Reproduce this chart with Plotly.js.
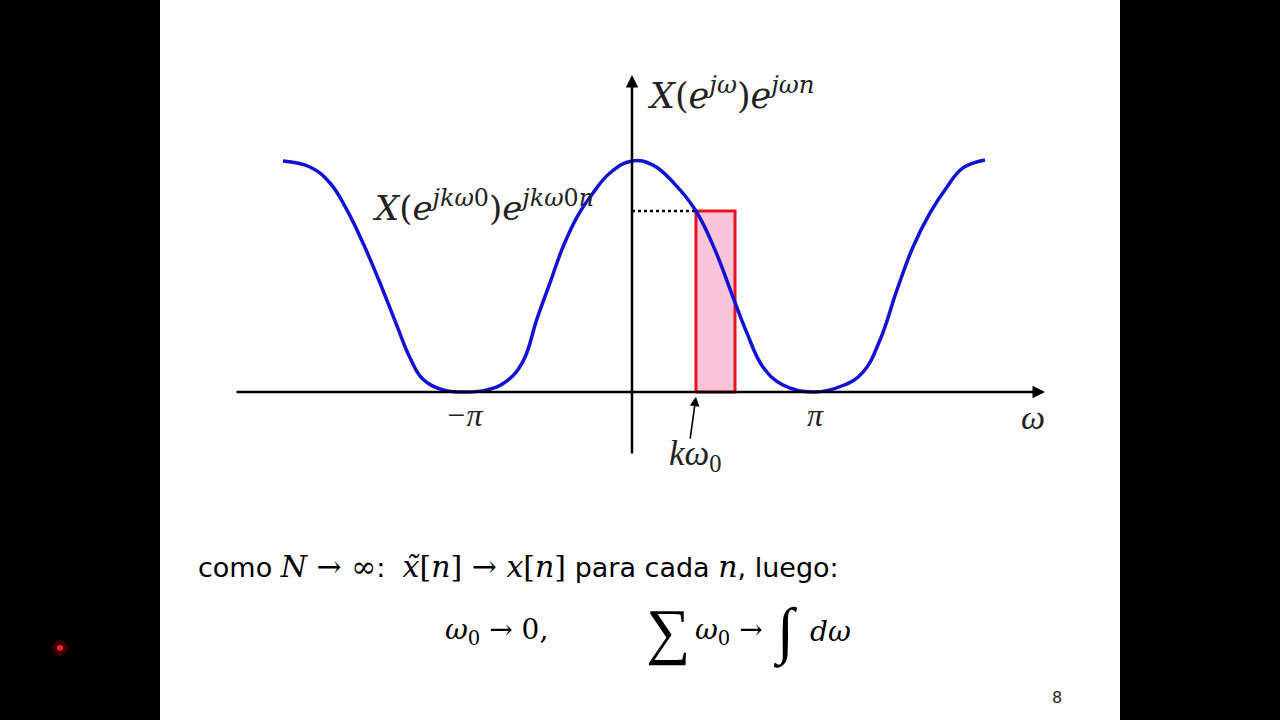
<!DOCTYPE html>
<html>
<head>
<meta charset="utf-8">
<script src="https://cdn.plot.ly/plotly-3.0.1.min.js"></script>
<style>html,body{margin:0;padding:0;background:#000;}#chart{width:1280px;height:720px;}</style>
</head>
<body>
<div id="chart"></div>
<script>
// Curve samples: omega (rad) and |X| level
const omega = [-6.230,-5.748,-5.391,-5.087,-4.802,-4.498,-4.195,-3.963,-3.731,-3.374,-3.017,-2.588,-2.231,-1.946,-1.696,-1.464,-1.232,-0.982,-0.696,-0.393,0,0.375,0.768,1.142,1.482,1.803,2.053,2.338,2.695,3.231,3.767,4.124,4.427,4.730,5.016,5.320,5.623,5.909,6.301];
const Xval  = [0.996,0.970,0.901,0.784,0.642,0.470,0.285,0.148,0.055,0.009,0.000,0.009,0.048,0.132,0.315,0.470,0.625,0.754,0.858,0.944,0.996,0.978,0.895,0.780,0.612,0.409,0.254,0.108,0.030,0.000,0.028,0.086,0.224,0.440,0.625,0.772,0.884,0.966,1.000];
// Highlighted strip at k*omega0
const kw0 = 1.142;
const kw0Right = 1.839;
const kw0Height = 0.780;
// Axis tick labels
const tickPos = [-2.981, 3.267];
const tickText = ['\u2212\u03c0', '\u03c0'];

const serif = '"Liberation Serif", "DejaVu Serif", serif';
const dserif = '"DejaVu Serif", "Liberation Serif", serif';
const sans = '"DejaVu Sans", "Liberation Sans", sans-serif';
const M = (s) => '<span style="font-family:\'DejaVu Serif\';font-size:30px">' + s + '</span>';

const traces = [
  { // pink strip
    x: [kw0, kw0, kw0Right, kw0Right, kw0],
    y: [0, kw0Height, kw0Height, 0, 0],
    mode: 'lines', fill: 'toself', fillcolor: '#f7c4d9',
    line: {color: '#e8141e', width: 3}, hoverinfo: 'skip'
  },
  { // dotted level line
    x: [0, kw0], y: [kw0Height, kw0Height],
    mode: 'lines', line: {color: '#000', width: 2.5, dash: 'dot'}, hoverinfo: 'skip'
  },
  { // spectrum curve
    x: omega, y: Xval, mode: 'lines',
    line: {color: '#1212d2', width: 3.5, shape: 'spline', smoothing: 1.2}, hoverinfo: 'skip'
  }
];

const mathFont = {family: serif, size: 32, color: '#222'};
const annotations = [
  // x-axis arrow
  {x: 7.372, y: 0, ax: -7.086, ay: 0, xref: 'x', yref: 'y', axref: 'x', ayref: 'y',
   text: '', showarrow: true, arrowhead: 2, arrowsize: 1, arrowwidth: 2.5, arrowcolor: '#000'},
  // y-axis arrow
  {x: 0, y: 1.3664, ax: 0, ay: -0.2716, xref: 'x', yref: 'y', axref: 'x', ayref: 'y',
   text: '', showarrow: true, arrowhead: 2, arrowsize: 1, arrowwidth: 2.5, arrowcolor: '#000'},
  // k omega0 pointer
  {x: kw0, y: -0.02, ax: 1.035, ay: -0.207, xref: 'x', yref: 'y', axref: 'x', ayref: 'y',
   text: '', showarrow: true, arrowhead: 2, arrowsize: 1.2, arrowwidth: 1.6, arrowcolor: '#000'},
  {x: 1.125, y: -0.272, xref: 'x', yref: 'y', showarrow: false,
   text: '<i>k</i><i>ω</i><sub>0</sub>', font: {family: serif, size: 35, color: '#222'}},
  {x: 7.158, y: -0.108, xref: 'x', yref: 'y', showarrow: false, text: '<i>ω</i>', font: {family: serif, size: 34, color: '#222'}},
  {x: 0.232, y: 1.29, xref: 'x', yref: 'y', xanchor: 'left', showarrow: false,
   text: '<i>X</i>(<i>e</i><sup><i>jω</i></sup>)<i>e</i><sup><i>jωn</i></sup>', font: {family: dserif, size: 35, color: '#222'}},
  {x: -4.677, y: 0.80, xref: 'x', yref: 'y', xanchor: 'left', showarrow: false,
   text: '<i>X</i>(<i>e</i><sup><i>jkω</i>0</sup>)<i>e</i><sup><i>jkω</i>0<i>n</i></sup>', font: {family: dserif, size: 34, color: '#222'}},
  // bottom text
  {x: -7.783, y: -0.754, xref: 'x', yref: 'y', xanchor: 'left', showarrow: false,
   font: {family: sans, size: 27, color: '#000'},
   text: 'como ' + M('<i>N</i> → ∞') + ':  ' + M('<i>x̃</i>[<i>n</i>] → <i>x</i>[<i>n</i>]') + ' para cada ' + M('<i>n</i>') + ', luego:'},
  {x: -3.374, y: -1.034, xref: 'x', yref: 'y', xanchor: 'left', showarrow: false,
   font: {family: dserif, size: 28, color: '#000'}, text: '<i>ω</i><sub>0</sub> → 0,'},
  {x: 0.643, y: -1.034, xref: 'x', yref: 'y', showarrow: false,
   font: {family: serif, size: 62, color: '#000'}, text: '∑'},
  {x: 1.09, y: -1.034, xref: 'x', yref: 'y', xanchor: 'left', showarrow: false,
   font: {family: dserif, size: 28, color: '#000'}, text: '<i>ω</i><sub>0</sub> →'},
  {x: 2.745, y: -1.034, xref: 'x', yref: 'y', showarrow: false,
   font: {family: serif, size: 62, color: '#000'}, text: '<i>∫</i>'},
  {x: 3.142, y: -1.034, xref: 'x', yref: 'y', xanchor: 'left', showarrow: false,
   font: {family: dserif, size: 28, color: '#000'}, text: '<i>dω</i>'},
  // page number
  {x: 7.587, y: -1.315, xref: 'x', yref: 'y', showarrow: false,
   font: {family: sans, size: 16, color: '#222'}, text: '8'}
];
tickPos.forEach((p, i) => annotations.push({
  x: p, y: -0.099, xref: 'x', yref: 'y', showarrow: false, text: '<i>' + tickText[i] + '</i>', font: mathFont
}));

const layout = {
  width: 1280, height: 720,
  margin: {l: 160, r: 160, t: 0, b: 0, pad: 0},
  paper_bgcolor: '#000', plot_bgcolor: '#fff',
  showlegend: false,
  xaxis: {range: [-8.425, 8.711], visible: false, fixedrange: true},
  yaxis: {range: [-1.4138, 1.6897], visible: false, fixedrange: true},
  annotations: annotations,
  shapes: [
    {type: 'circle', xref: 'paper', yref: 'paper', x0: -0.1125, x1: -0.0958, y0: 0.089, y1: 0.111,
     fillcolor: 'rgba(160,0,0,0.35)', line: {width: 0}},
    {type: 'circle', xref: 'paper', yref: 'paper', x0: -0.1073, x1: -0.101, y0: 0.0958, y1: 0.1042,
     fillcolor: '#ff2020', line: {width: 0}}
  ]
};
Plotly.newPlot('chart', traces, layout, {displayModeBar: false, staticPlot: true});
</script>
</body>
</html>
